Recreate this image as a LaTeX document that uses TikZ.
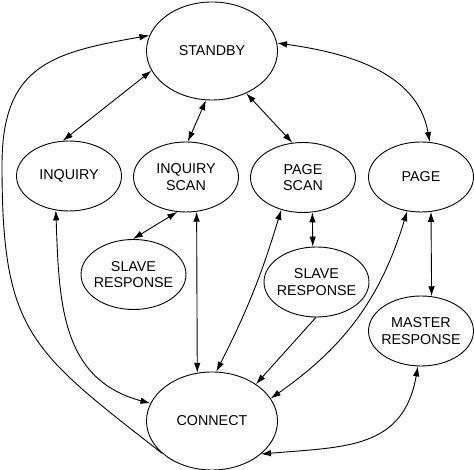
\documentclass[tikz,border=0pt]{standalone}
\usepackage{fontspec}
\setmainfont{Liberation Sans}
\usetikzlibrary{shapes.geometric,arrows.meta}
\begin{document}
\begin{tikzpicture}[x=1pt, y=1pt, line width=0.9pt,
        >={Latex[length=10pt,width=6.5pt]},
        bstate/.style={draw, ellipse, inner sep=0pt, inner xsep=-12pt, align=center,
            minimum width=105pt, minimum height=70pt,
            font=\fontsize{14.3}{16.8}\selectfont},
        bigstate/.style={bstate, minimum width=131pt, minimum height=98pt}]

        \useasboundingbox (0, 0) rectangle (474, 470);

        \node [bigstate] (standby) at (212, 419) {STANDBY};
        \node [bstate] (inquiry) at (69, 294) {INQUIRY};
        \node [bstate] (iscan) at (186, 293) {INQUIRY\\SCAN};
        \node [bstate] (pscan) at (303, 292.5) {PAGE\\SCAN};
        \node [bstate] (page) at (421, 293) {PAGE};
        \node [bstate] (sresp1) at (133.5, 195.5) {SLAVE\\RESPONSE};
        \node [bstate] (sresp2) at (316.5, 188) {SLAVE\\RESPONSE};
        \node [bstate] (mresp) at (421, 139) {MASTER\\RESPONSE};
        \node [bigstate] (connect) at (212, 49) {CONNECT};

        \coordinate (lbend) at (2, 305);

        % standby and the scan states
        \draw [<->] (standby.198) -- (inquiry.100);
        \draw [<->] (standby.263) -- (iscan.87);
        \draw [<->] (standby.309) -- (pscan.107);
        \draw [<->] (standby.7) to [out=-8, in=100] (page.76);

        % back to standby
        \draw [->] (connect.213) to [out=142, in=-90, looseness=1.3] (lbend)
        to [out=90, in=190, looseness=1.3] (standby.166);

        % responses
        \draw [<->] (iscan.256) -- (sresp1.91);
        \draw [<->] (pscan.285.6) -- (sresp2.96);
        \draw [<->] (page.286) -- (mresp.73.5);

        % into connect
        \draw [<->] (inquiry.249) to [out=-88, in=165, looseness=1.1] (connect.164);
        \draw [<->] (iscan.287) -- (connect.107);
        \draw [<->] (pscan.236) to [bend left=5] (connect.85);
        \draw [->] (sresp2.269) -- (connect.40);
        \draw [<->] (page.248) to [out=253, in=35] (connect.21);
        \draw [<->] (connect.326) to [out=5, in=-100, looseness=1.2] (mresp.265);

    \end{tikzpicture}
\end{document}
